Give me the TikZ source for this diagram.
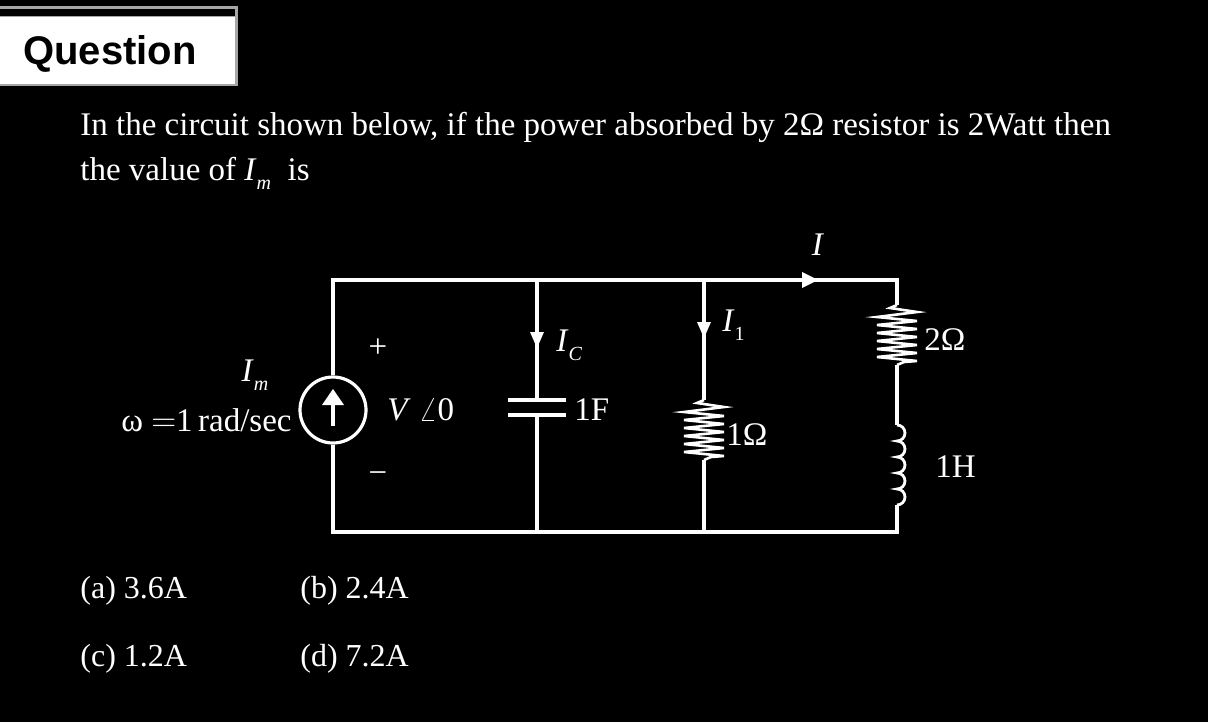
\documentclass[tikz,border=0pt]{standalone}
\usepackage{fontspec}
\setmainfont{Liberation Serif}
\setsansfont{Liberation Sans}
\begin{document}
\begin{tikzpicture}[x=0.5pt,y=-0.5pt,
  wire/.style={white,line width=1.6pt},
  lbl/.style={white,font=\fontsize{16.5}{18}\selectfont,inner sep=0pt},
  tip/.style={white,fill=white},
  zig/.style={white,line width=1.3pt},
  coil/.style={white,line width=1.4pt}]
\fill[black] (0,0) rectangle (1208,722);
\useasboundingbox (0,0) rectangle (1208,722);
% question header
\fill[gray!70] (0,6) rectangle (238,86);
\fill[black] (0,9) rectangle (235,16);
\fill[white] (0,17) rectangle (235,84);
\node[anchor=base west,inner sep=0pt,font=\sffamily\bfseries\fontsize{20}{22}\selectfont] (q) at (23,65) {Question};
\node[lbl,anchor=base west] (t1) at (80,135) {In the circuit shown below, if the power absorbed by 2Ω resistor is 2Watt then};
\node[lbl,anchor=base west] (t2) at (80,180) {the value of \textit{I}\raisebox{-0.6ex}{\fontsize{10}{11}\selectfont\textit{m}}\ \ is};
% nodes
\coordinate (tl) at (333,280); \coordinate (bl) at (333,532);
\coordinate (tc) at (537,280); \coordinate (bc) at (537,532);
\coordinate (tr1) at (704,280); \coordinate (br1) at (704,532);
\coordinate (tr) at (897,280); \coordinate (br) at (897,532);
\node[circle,draw=white,line width=1.6pt,minimum size=33pt,inner sep=0pt] (src) at (333,410) {};
% wires
\draw[wire] (src.north) -- (tl) -- (tr) -- (897,305);
\draw[wire] (src.south) -- (bl) -- (br) -- (897,505);
\draw[wire] (tc) -- (537,400); \draw[wire] (537,415) -- (bc);
\draw[wire] (tr1) -- (704,400); \draw[wire] (704,460) -- (br1);
\draw[wire] (897,365) -- (897,425);
% source arrow
\draw[white,line width=2pt] (333,426) -- (333,400);
\fill[white] (322,405) -- (333,389) -- (344,405) -- cycle;
% capacitor
\draw[white,line width=1.8pt] (508,400) -- (566,400) (508,415) -- (566,415);
% resistors
\draw[zig] (704,400) -- (697,403) -- (724,407)
  \foreach \k in {0,...,5}{ -- (684,{412+\k*8}) -- (724,{416+\k*8})} -- (711,457) -- (704,460);
\draw[zig] (897,305) -- (890,308) -- (917,312)
  \foreach \k in {0,...,5}{ -- (877,{317+\k*8}) -- (917,{321+\k*8})} -- (904,362) -- (897,365);
% inductor
\draw[coil] (897,425) \foreach \k in {0,...,4}{ arc[start angle=-90,end angle=90,radius=8] };
% current arrows
\fill[tip] (530,332) -- (544,332) -- (537,348) -- cycle;
\fill[tip] (697,322) -- (711,322) -- (704,338) -- cycle;
\fill[tip] (802,272) -- (802,288) -- (818,280) -- cycle;
% labels
\node[lbl] (lim) at (255,375) {\textit{I}\raisebox{-0.6ex}{\fontsize{10}{11}\selectfont\textit{m}}};
\node[lbl,anchor=east] (lw) at (292,420) {ω $=$1\,rad/sec};
\node[lbl] (lp) at (378,348) {+};
\node[lbl] (lm) at (378,478) {−};
\node[lbl,anchor=west] (lv) at (387,410) {\textit{V} $\angle$0};
\node[lbl,anchor=west] (lf) at (574,410) {1F};
\node[lbl,anchor=west] (lic) at (556,345) {\textit{I}\raisebox{-0.6ex}{\fontsize{10}{11}\selectfont\textit{C}}};
\node[lbl,anchor=west] (li1) at (722,325) {\textit{I}\raisebox{-0.6ex}{\fontsize{10}{11}\selectfont 1}};
\node[lbl] (li) at (818,245) {\textit{I}};
\node[lbl,anchor=west] (lr1) at (726,435) {1Ω};
\node[lbl,anchor=west] (lr2) at (924,340) {2Ω};
\node[lbl,anchor=west] (ll) at (935,467) {1H};
\node[lbl,anchor=base west,font=\fontsize{16}{18}\selectfont] (oa) at (80,598) {(a) 3.6A};
\node[lbl,anchor=base west,font=\fontsize{16}{18}\selectfont] (ob) at (300,598) {(b) 2.4A};
\node[lbl,anchor=base west,font=\fontsize{16}{18}\selectfont] (oc) at (80,666) {(c) 1.2A};
\node[lbl,anchor=base west,font=\fontsize{16}{18}\selectfont] (od) at (300,666) {(d) 7.2A};
\end{tikzpicture}
\end{document}
